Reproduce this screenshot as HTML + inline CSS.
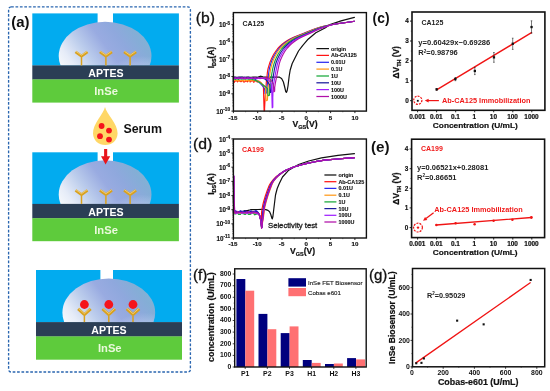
<!DOCTYPE html>
<html lang="en"><head><meta charset="utf-8"><title>InSe FET Biosensor Figure</title>
<style>html,body{margin:0;padding:0;background:#fff}body{width:550px;height:391px;overflow:hidden}svg{display:block}text{font-family:"Liberation Sans", Arial, sans-serif}.b{font-weight:bold}</style></head><body>
<svg width="550" height="391" viewBox="0 0 550 391">
<defs><linearGradient id="dome" x1="0" y1="0.66" x2="1" y2="0.12"><stop offset="0" stop-color="#f8fafd"/><stop offset="0.14" stop-color="#e6ecf8"/><stop offset="0.32" stop-color="#bccdec"/><stop offset="0.52" stop-color="#99abe1"/><stop offset="0.68" stop-color="#8fa8dd"/><stop offset="0.84" stop-color="#84aed6"/><stop offset="1" stop-color="#7fb8d3"/></linearGradient><radialGradient id="dome2" cx="0.9" cy="0.95" r="0.45"><stop offset="0" stop-color="#e8eefa" stop-opacity="0.85"/><stop offset="1" stop-color="#e8eefa" stop-opacity="0"/></radialGradient></defs>
<rect width="550" height="391" fill="#fff"/>
<rect x="8.6" y="6.8" width="181.8" height="365.2" rx="2.5" fill="none" stroke="#2a66b0" stroke-width="1.35" stroke-dasharray="2.7 1.7"/>
<text x="11.2" y="27.1" font-size="14.76" font-weight="bold" fill="#111"  textLength="18.3" lengthAdjust="spacingAndGlyphs">(a)</text>
<rect x="32.3" y="13.4" width="146.6" height="52.2" fill="#02abef"/>
<rect x="97.6" y="12.9" width="15.4" height="12" fill="#fff"/>
<clipPath id="cl0"><rect x="32.3" y="13.4" width="146.6" height="52.0"/></clipPath>
<ellipse cx="105.1" cy="56.0" rx="46.4" ry="34.2" fill="url(#dome)" clip-path="url(#cl0)"/>
<ellipse cx="105.1" cy="56.0" rx="46.4" ry="34.2" fill="url(#dome2)" clip-path="url(#cl0)"/>
<rect x="32.3" y="65.4" width="146.6" height="14.2" fill="#2b3e55"/>
<rect x="32.3" y="79.4" width="146.6" height="23.2" fill="#5ecb3c"/>
<g stroke="#d9a11e" fill="none" stroke-linecap="butt">
<path d="M81.5 65.4 V55.4" stroke-width="1.5"/>
<path d="M81.5 56.1 L75.5 51.8 M81.5 56.1 L87.5 51.8" stroke-width="2.8"/>
<path d="M81.5 55.2 L75.9 51.3 M81.5 55.2 L87.1 51.3" stroke="#f6dc9c" stroke-width="0.7"/>
</g>
<g stroke="#d9a11e" fill="none" stroke-linecap="butt">
<path d="M105.9 65.4 V55.4" stroke-width="1.5"/>
<path d="M105.9 56.1 L99.9 51.8 M105.9 56.1 L111.9 51.8" stroke-width="2.8"/>
<path d="M105.9 55.2 L100.3 51.3 M105.9 55.2 L111.5 51.3" stroke="#f6dc9c" stroke-width="0.7"/>
</g>
<g stroke="#d9a11e" fill="none" stroke-linecap="butt">
<path d="M130.1 65.4 V55.4" stroke-width="1.5"/>
<path d="M130.1 56.1 L124.1 51.8 M130.1 56.1 L136.1 51.8" stroke-width="2.8"/>
<path d="M130.1 55.2 L124.5 51.3 M130.1 55.2 L135.7 51.3" stroke="#f6dc9c" stroke-width="0.7"/>
</g>
<text x="105.9" y="77.1" font-size="10.60" font-weight="bold" fill="#fff" text-anchor="middle" >APTES</text>
<text x="106.1" y="95.0" font-size="11.20" font-weight="bold" fill="#eaf9dc" text-anchor="middle" >InSe</text>
<rect x="32.3" y="152.3" width="146.6" height="51.8" fill="#02abef"/>
<rect x="97.6" y="151.8" width="15.4" height="12" fill="#fff"/>
<clipPath id="cl1"><rect x="32.3" y="152.3" width="146.6" height="51.6"/></clipPath>
<ellipse cx="105.1" cy="194.5" rx="46.4" ry="34.2" fill="url(#dome)" clip-path="url(#cl1)"/>
<ellipse cx="105.1" cy="194.5" rx="46.4" ry="34.2" fill="url(#dome2)" clip-path="url(#cl1)"/>
<rect x="32.3" y="203.9" width="146.6" height="14.5" fill="#2b3e55"/>
<rect x="32.3" y="218.2" width="146.6" height="23.0" fill="#5ecb3c"/>
<g stroke="#d9a11e" fill="none" stroke-linecap="butt">
<path d="M81.5 203.9 V193.9" stroke-width="1.5"/>
<path d="M81.5 194.6 L75.5 190.3 M81.5 194.6 L87.5 190.3" stroke-width="2.8"/>
<path d="M81.5 193.7 L75.9 189.8 M81.5 193.7 L87.1 189.8" stroke="#f6dc9c" stroke-width="0.7"/>
</g>
<g stroke="#d9a11e" fill="none" stroke-linecap="butt">
<path d="M105.9 203.9 V193.9" stroke-width="1.5"/>
<path d="M105.9 194.6 L99.9 190.3 M105.9 194.6 L111.9 190.3" stroke-width="2.8"/>
<path d="M105.9 193.7 L100.3 189.8 M105.9 193.7 L111.5 189.8" stroke="#f6dc9c" stroke-width="0.7"/>
</g>
<g stroke="#d9a11e" fill="none" stroke-linecap="butt">
<path d="M130.1 203.9 V193.9" stroke-width="1.5"/>
<path d="M130.1 194.6 L124.1 190.3 M130.1 194.6 L136.1 190.3" stroke-width="2.8"/>
<path d="M130.1 193.7 L124.5 189.8 M130.1 193.7 L135.7 189.8" stroke="#f6dc9c" stroke-width="0.7"/>
</g>
<text x="105.9" y="215.6" font-size="10.60" font-weight="bold" fill="#fff" text-anchor="middle" >APTES</text>
<text x="106.1" y="233.8" font-size="11.20" font-weight="bold" fill="#eaf9dc" text-anchor="middle" >InSe</text>
<rect x="36.0" y="270.0" width="146.0" height="52.3" fill="#02abef"/>
<rect x="100.4" y="269.5" width="12.6" height="12" fill="#fff"/>
<clipPath id="cl2"><rect x="36.0" y="270.0" width="146.0" height="52.1"/></clipPath>
<ellipse cx="108.8" cy="312.7" rx="46.4" ry="34.2" fill="url(#dome)" clip-path="url(#cl2)"/>
<ellipse cx="108.8" cy="312.7" rx="46.4" ry="34.2" fill="url(#dome2)" clip-path="url(#cl2)"/>
<rect x="36.0" y="322.1" width="146.0" height="14.5" fill="#2b3e55"/>
<rect x="36.0" y="336.4" width="146.0" height="23.3" fill="#5ecb3c"/>
<g stroke="#d9a11e" fill="none" stroke-linecap="butt">
<path d="M84.4 322.1 V314.1" stroke-width="1.5"/>
<path d="M84.4 314.6 L78.1 308.9 M84.4 314.6 L90.7 308.9" stroke-width="2.8"/>
<path d="M84.4 313.7 L78.5 308.4 M84.4 313.7 L90.3 308.4" stroke="#f6dc9c" stroke-width="0.7"/>
</g>
<circle cx="84.4" cy="304.5" r="4.4" fill="#f5141c"/>
<g stroke="#d9a11e" fill="none" stroke-linecap="butt">
<path d="M108.8 322.1 V314.1" stroke-width="1.5"/>
<path d="M108.8 314.6 L102.5 308.9 M108.8 314.6 L115.1 308.9" stroke-width="2.8"/>
<path d="M108.8 313.7 L102.9 308.4 M108.8 313.7 L114.7 308.4" stroke="#f6dc9c" stroke-width="0.7"/>
</g>
<circle cx="108.8" cy="304.5" r="4.4" fill="#f5141c"/>
<g stroke="#d9a11e" fill="none" stroke-linecap="butt">
<path d="M133.0 322.1 V314.1" stroke-width="1.5"/>
<path d="M133.0 314.6 L126.7 308.9 M133.0 314.6 L139.3 308.9" stroke-width="2.8"/>
<path d="M133.0 313.7 L127.1 308.4 M133.0 313.7 L138.9 308.4" stroke="#f6dc9c" stroke-width="0.7"/>
</g>
<circle cx="133.0" cy="304.5" r="4.4" fill="#f5141c"/>
<text x="108.9" y="333.8" font-size="10.60" font-weight="bold" fill="#fff" text-anchor="middle" >APTES</text>
<text x="109.8" y="352.0" font-size="11.20" font-weight="bold" fill="#eaf9dc" text-anchor="middle" >InSe</text>
<path d="M105 107 C106.5 114 118 124 117.6 133.5 C117.3 140.5 112 145 105.3 145 C98.6 145 93.3 140.5 93 133.5 C92.6 124 103.5 114 105 107Z" fill="#ffd766"/>
<circle cx="101.6" cy="126.0" r="2.9" fill="#f5141c"/>
<circle cx="109.0" cy="130.6" r="2.9" fill="#f5141c"/>
<circle cx="100.0" cy="136.2" r="2.9" fill="#f5141c"/>
<circle cx="109.0" cy="139.6" r="2.9" fill="#f5141c"/>
<text x="123.4" y="132.6" font-size="12.40" font-weight="bold" fill="#111" text-anchor="start" >Serum</text>
<path d="M104.1 149 H107.2 V156.3 H110.2 L105.6 164.6 L101 156.3 H104.1Z" fill="#e8151b"/>
<text x="195.8" y="23.4" font-size="15.29" font-weight="normal" fill="#111" stroke="#111" stroke-width="0.3" textLength="19.2" lengthAdjust="spacingAndGlyphs">(b)</text>
<path d="M233.4 111.1 h-2.0" stroke="#111" stroke-width="0.9"/>
<text x="230.1" y="113.7" font-size="6.3" font-weight="bold" fill="#111" stroke="#111" stroke-width="0.15" text-anchor="end">10<tspan dy="-2.4" font-size="4.7">-10</tspan></text>
<path d="M233.4 105.9 h-1.2" stroke="#111" stroke-width="0.45"/>
<path d="M233.4 102.8 h-1.2" stroke="#111" stroke-width="0.45"/>
<path d="M233.4 100.7 h-1.2" stroke="#111" stroke-width="0.45"/>
<path d="M233.4 99.0 h-1.2" stroke="#111" stroke-width="0.45"/>
<path d="M233.4 97.6 h-1.2" stroke="#111" stroke-width="0.45"/>
<path d="M233.4 96.5 h-1.2" stroke="#111" stroke-width="0.45"/>
<path d="M233.4 95.5 h-1.2" stroke="#111" stroke-width="0.45"/>
<path d="M233.4 94.6 h-1.2" stroke="#111" stroke-width="0.45"/>
<path d="M233.4 93.8 h-2.0" stroke="#111" stroke-width="0.9"/>
<text x="230.1" y="96.4" font-size="6.3" font-weight="bold" fill="#111" stroke="#111" stroke-width="0.15" text-anchor="end">10<tspan dy="-2.4" font-size="4.7">-9</tspan></text>
<path d="M233.4 88.6 h-1.2" stroke="#111" stroke-width="0.45"/>
<path d="M233.4 85.5 h-1.2" stroke="#111" stroke-width="0.45"/>
<path d="M233.4 83.4 h-1.2" stroke="#111" stroke-width="0.45"/>
<path d="M233.4 81.7 h-1.2" stroke="#111" stroke-width="0.45"/>
<path d="M233.4 80.3 h-1.2" stroke="#111" stroke-width="0.45"/>
<path d="M233.4 79.2 h-1.2" stroke="#111" stroke-width="0.45"/>
<path d="M233.4 78.2 h-1.2" stroke="#111" stroke-width="0.45"/>
<path d="M233.4 77.3 h-1.2" stroke="#111" stroke-width="0.45"/>
<path d="M233.4 76.5 h-2.0" stroke="#111" stroke-width="0.9"/>
<text x="230.1" y="79.1" font-size="6.3" font-weight="bold" fill="#111" stroke="#111" stroke-width="0.15" text-anchor="end">10<tspan dy="-2.4" font-size="4.7">-8</tspan></text>
<path d="M233.4 71.3 h-1.2" stroke="#111" stroke-width="0.45"/>
<path d="M233.4 68.2 h-1.2" stroke="#111" stroke-width="0.45"/>
<path d="M233.4 66.1 h-1.2" stroke="#111" stroke-width="0.45"/>
<path d="M233.4 64.4 h-1.2" stroke="#111" stroke-width="0.45"/>
<path d="M233.4 63.0 h-1.2" stroke="#111" stroke-width="0.45"/>
<path d="M233.4 61.9 h-1.2" stroke="#111" stroke-width="0.45"/>
<path d="M233.4 60.9 h-1.2" stroke="#111" stroke-width="0.45"/>
<path d="M233.4 60.0 h-1.2" stroke="#111" stroke-width="0.45"/>
<path d="M233.4 59.2 h-2.0" stroke="#111" stroke-width="0.9"/>
<text x="230.1" y="61.8" font-size="6.3" font-weight="bold" fill="#111" stroke="#111" stroke-width="0.15" text-anchor="end">10<tspan dy="-2.4" font-size="4.7">-7</tspan></text>
<path d="M233.4 54.0 h-1.2" stroke="#111" stroke-width="0.45"/>
<path d="M233.4 50.9 h-1.2" stroke="#111" stroke-width="0.45"/>
<path d="M233.4 48.8 h-1.2" stroke="#111" stroke-width="0.45"/>
<path d="M233.4 47.1 h-1.2" stroke="#111" stroke-width="0.45"/>
<path d="M233.4 45.7 h-1.2" stroke="#111" stroke-width="0.45"/>
<path d="M233.4 44.6 h-1.2" stroke="#111" stroke-width="0.45"/>
<path d="M233.4 43.6 h-1.2" stroke="#111" stroke-width="0.45"/>
<path d="M233.4 42.7 h-1.2" stroke="#111" stroke-width="0.45"/>
<path d="M233.4 41.9 h-2.0" stroke="#111" stroke-width="0.9"/>
<text x="230.1" y="44.5" font-size="6.3" font-weight="bold" fill="#111" stroke="#111" stroke-width="0.15" text-anchor="end">10<tspan dy="-2.4" font-size="4.7">-6</tspan></text>
<path d="M233.4 36.7 h-1.2" stroke="#111" stroke-width="0.45"/>
<path d="M233.4 33.6 h-1.2" stroke="#111" stroke-width="0.45"/>
<path d="M233.4 31.5 h-1.2" stroke="#111" stroke-width="0.45"/>
<path d="M233.4 29.8 h-1.2" stroke="#111" stroke-width="0.45"/>
<path d="M233.4 28.4 h-1.2" stroke="#111" stroke-width="0.45"/>
<path d="M233.4 27.3 h-1.2" stroke="#111" stroke-width="0.45"/>
<path d="M233.4 26.3 h-1.2" stroke="#111" stroke-width="0.45"/>
<path d="M233.4 25.4 h-1.2" stroke="#111" stroke-width="0.45"/>
<path d="M233.4 24.6 h-2.0" stroke="#111" stroke-width="0.9"/>
<text x="230.1" y="27.2" font-size="6.3" font-weight="bold" fill="#111" stroke="#111" stroke-width="0.15" text-anchor="end">10<tspan dy="-2.4" font-size="4.7">-5</tspan></text>
<path d="M233.4 19.4 h-1.2" stroke="#111" stroke-width="0.45"/>
<path d="M233.4 16.3 h-1.2" stroke="#111" stroke-width="0.45"/>
<path d="M233.4 14.2 h-1.2" stroke="#111" stroke-width="0.45"/>
<path d="M233.4 111.1 v2.0" stroke="#111" stroke-width="0.9"/>
<text x="233.0" y="119.7" font-size="6.20" font-weight="bold" fill="#111" text-anchor="middle" stroke="#111" stroke-width="0.15">-15</text>
<path d="M257.7 111.1 v2.0" stroke="#111" stroke-width="0.9"/>
<text x="257.3" y="119.7" font-size="6.20" font-weight="bold" fill="#111" text-anchor="middle" stroke="#111" stroke-width="0.15">-10</text>
<path d="M282.0 111.1 v2.0" stroke="#111" stroke-width="0.9"/>
<text x="281.6" y="119.7" font-size="6.20" font-weight="bold" fill="#111" text-anchor="middle" stroke="#111" stroke-width="0.15">-5</text>
<path d="M306.3 111.1 v2.0" stroke="#111" stroke-width="0.9"/>
<text x="306.3" y="119.7" font-size="6.20" font-weight="bold" fill="#111" text-anchor="middle" stroke="#111" stroke-width="0.15">0</text>
<path d="M330.6 111.1 v2.0" stroke="#111" stroke-width="0.9"/>
<text x="330.6" y="119.7" font-size="6.20" font-weight="bold" fill="#111" text-anchor="middle" stroke="#111" stroke-width="0.15">5</text>
<path d="M354.9 111.1 v2.0" stroke="#111" stroke-width="0.9"/>
<text x="354.9" y="119.7" font-size="6.20" font-weight="bold" fill="#111" text-anchor="middle" stroke="#111" stroke-width="0.15">10</text>
<path d="M245.6 111.1 v1.2" stroke="#111" stroke-width="0.45"/>
<path d="M269.9 111.1 v1.2" stroke="#111" stroke-width="0.45"/>
<path d="M294.2 111.1 v1.2" stroke="#111" stroke-width="0.45"/>
<path d="M318.4 111.1 v1.2" stroke="#111" stroke-width="0.45"/>
<path d="M342.8 111.1 v1.2" stroke="#111" stroke-width="0.45"/>
<path d="M233.9 77.2 L235.0 77.2 L236.5 77.4 L238.0 77.3 L239.5 77.1 L241.0 77.0 L242.5 77.2 L244.0 77.4 L245.5 77.3 L247.0 77.0 L248.5 77.0 L250.0 77.3 L251.5 77.4 L253.0 77.2 L254.5 77.0 L256.0 77.1 L257.5 77.3 L259.5 76.6 L261.0 76.2 L263.0 76.8 L266.0 77.1 L272.0 77.1 L279.5 77.2 L281.6 78.4 L283.4 82.0 L284.8 87.5 L285.8 91.8 L286.5 92.4 L287.2 90.5 L288.0 86.0 L289.2 76.0 L290.2 70.0 L292.2 63.5 L294.7 58.4 L298.5 51.0 L302.6 45.6 L308.1 39.2 L315.8 32.8 L325.0 28.0 L329.3 24.9 L341.0 20.9 L354.4 17.4" fill="none" stroke="#111111" stroke-width="1.20" stroke-linejoin="round" stroke-linecap="round" />
<path d="M233.9 82.5 L234.8 81.5 L235.7 80.5 L236.6 80.6 L237.5 81.8 L238.4 80.8 L239.3 80.6 L240.2 81.4 L241.1 81.7 L242.0 80.5 L242.9 80.4 L243.8 82.1 L244.7 81.7 L245.6 81.1 L246.5 81.2 L247.4 81.8 L248.3 80.9 L249.2 80.0 L250.1 81.9 L251.0 81.4 L251.9 80.3 L252.8 80.7 L253.7 82.3 L254.6 81.6 L255.5 80.2 L256.4 80.8 L257.3 82.1 L258.2 81.1 L259.1 81.3 L259.7 81.6 L260.3 82.1 L261.0 82.7 L261.6 83.5 L262.2 84.4 L262.8 85.4 L263.4 86.5 L264.1 110.9 L264.6 110.4 L264.6 108.4 L264.7 106.4 L264.8 104.4 L264.9 102.4 L265.0 100.4 L265.1 98.4 L265.2 96.4 L265.3 94.4 L265.5 92.4 L265.6 90.4 L265.8 88.4 L266.0 86.4 L266.2 84.4 L266.3 82.4 L266.5 80.4 L266.7 78.4 L267.0 76.4 L267.2 74.4 L267.4 72.4 L267.7 70.4 L268.1 68.4 L268.7 66.4 L269.3 64.4 L269.9 62.4 L270.7 60.4 L270.9 60.0 L271.3 59.0 L271.8 58.0 L272.3 57.0 L272.8 56.0 L273.3 55.0 L273.9 54.0 L274.5 53.0 L275.2 52.0 L275.9 51.0 L276.6 50.0 L277.4 49.0 L278.3 48.0 L279.2 47.0 L280.2 46.0 L281.3 45.0 L282.4 44.0 L283.7 43.0 L285.1 42.0 L286.6 41.0 L288.2 40.0 L290.0 39.0 L292.0 38.0 L294.2 37.0 L296.7 36.0 L299.3 35.0 L301.9 34.0 L304.4 33.0 L306.8 32.0 L309.3 31.0 L311.8 30.0 L313.1 29.5 L314.5 29.0 L315.9 28.5 L317.4 28.0 L318.9 27.5 L320.6 27.0 L322.4 26.5 L324.5 26.0 L326.9 25.5 L329.6 25.0 L332.4 24.5 L335.5 24.0 L339.0 23.5 L342.6 23.0 L346.1 22.5 L349.5 22.0 L353.0 21.5 L354.4 21.3" fill="none" stroke="#ff1414" stroke-width="1.15" stroke-linejoin="round" stroke-linecap="round" />
<path d="M233.9 77.7 L234.8 77.3 L235.7 77.7 L236.6 78.4 L237.5 77.5 L238.4 77.2 L239.3 77.6 L240.2 77.6 L241.1 77.4 L242.0 77.2 L242.9 78.1 L243.8 77.9 L244.7 77.1 L245.6 77.7 L246.5 78.0 L247.4 77.5 L248.3 77.2 L249.2 77.6 L251.8 78.0 L253.6 78.6 L255.4 79.5 L257.2 80.8 L259.1 82.3 L260.9 84.1 L262.7 86.2 L264.5 88.5 L265.1 93.5 L266.6 93.0 L266.8 91.0 L266.9 89.0 L267.1 87.0 L267.3 85.0 L267.5 83.0 L267.7 81.0 L267.9 79.0 L268.2 77.0 L268.4 75.0 L268.7 73.0 L269.0 71.0 L269.3 69.0 L269.8 67.0 L270.4 65.0 L271.0 63.0 L271.7 61.0 L272.1 60.0 L272.6 59.0 L273.0 58.0 L273.5 57.0 L274.0 56.0 L274.6 55.0 L275.1 54.0 L275.7 53.0 L276.4 52.0 L277.1 51.0 L277.8 50.0 L278.6 49.0 L279.4 48.0 L280.4 47.0 L281.4 46.0 L282.4 45.0 L283.6 44.0 L284.9 43.0 L286.2 42.0 L287.7 41.0 L289.3 40.0 L291.0 39.0 L293.0 38.0 L295.2 37.0 L297.7 36.0 L300.2 35.0 L302.7 34.0 L305.2 33.0 L307.6 32.0 L310.0 31.0 L312.5 30.0 L313.8 29.5 L315.2 29.0 L316.6 28.5 L318.0 28.0 L319.5 27.5 L321.2 27.0 L323.0 26.5 L325.0 26.0 L327.2 25.5 L329.8 25.0 L332.5 24.5 L335.5 24.0 L339.0 23.5 L342.6 23.0 L346.1 22.5 L349.5 22.0 L353.0 21.5 L354.4 21.3" fill="none" stroke="#2a2af0" stroke-width="1.15" stroke-linejoin="round" stroke-linecap="round" />
<path d="M233.9 80.0 L234.8 80.3 L235.7 80.5 L236.6 80.7 L237.5 80.4 L238.4 80.7 L239.3 81.4 L240.2 80.8 L241.1 80.5 L242.0 80.5 L242.9 81.3 L243.8 79.8 L244.7 80.1 L245.6 80.5 L246.5 81.1 L247.4 80.5 L248.3 80.4 L249.2 81.5 L250.1 80.5 L251.0 80.1 L251.9 80.7 L252.8 80.8 L253.7 80.5 L254.6 80.7 L255.5 80.7 L257.2 80.8 L258.4 81.2 L259.6 81.9 L260.8 82.7 L261.9 83.8 L263.1 85.0 L264.3 86.4 L265.5 88.0 L266.1 100.8 L267.4 100.3 L267.5 98.3 L267.6 96.3 L267.7 94.3 L267.9 92.3 L268.0 90.3 L268.1 88.3 L268.3 86.3 L268.5 84.3 L268.7 82.3 L269.0 80.3 L269.2 78.3 L269.5 76.3 L269.8 74.3 L270.1 72.3 L270.4 70.3 L270.8 68.3 L271.3 66.3 L271.9 64.3 L272.5 62.3 L273.3 60.3 L273.4 60.0 L273.8 59.0 L274.3 58.0 L274.8 57.0 L275.3 56.0 L275.8 55.0 L276.4 54.0 L276.9 53.0 L277.6 52.0 L278.3 51.0 L279.0 50.0 L279.8 49.0 L280.6 48.0 L281.5 47.0 L282.5 46.0 L283.6 45.0 L284.7 44.0 L286.0 43.0 L287.4 42.0 L288.8 41.0 L290.4 40.0 L292.1 39.0 L294.1 38.0 L296.3 37.0 L298.6 36.0 L301.1 35.0 L303.6 34.0 L306.1 33.0 L308.4 32.0 L310.8 31.0 L313.2 30.0 L314.5 29.5 L315.8 29.0 L317.2 28.5 L318.6 28.0 L320.2 27.5 L321.8 27.0 L323.5 26.5 L325.4 26.0 L327.6 25.5 L330.0 25.0 L332.6 24.5 L335.5 24.0 L339.0 23.5 L342.6 23.0 L346.1 22.5 L349.5 22.0 L353.0 21.5 L354.4 21.3" fill="none" stroke="#ff9a1a" stroke-width="1.15" stroke-linejoin="round" stroke-linecap="round" />
<path d="M233.9 78.9 L234.8 79.2 L235.7 79.5 L236.6 78.8 L237.5 78.9 L238.4 79.4 L239.3 79.1 L240.2 78.5 L241.1 79.2 L242.0 79.1 L242.9 79.0 L243.8 78.8 L244.7 79.0 L245.6 79.3 L246.5 79.0 L247.4 78.8 L248.3 79.1 L251.3 79.2 L253.6 79.8 L255.9 80.6 L258.2 81.7 L260.6 83.1 L262.9 84.7 L265.2 86.5 L267.5 88.5 L268.1 95.7 L269.5 95.2 L269.6 93.2 L269.7 91.2 L269.8 89.2 L270.0 87.2 L270.2 85.2 L270.4 83.2 L270.7 81.2 L271.0 79.2 L271.3 77.2 L271.6 75.2 L271.9 73.2 L272.3 71.2 L272.6 69.2 L273.1 67.2 L273.6 65.2 L274.2 63.2 L274.9 61.2 L275.3 60.0 L275.8 59.0 L276.2 58.0 L276.7 57.0 L277.2 56.0 L277.7 55.0 L278.2 54.0 L278.8 53.0 L279.5 52.0 L280.1 51.0 L280.8 50.0 L281.6 49.0 L282.5 48.0 L283.4 47.0 L284.3 46.0 L285.4 45.0 L286.5 44.0 L287.8 43.0 L289.1 42.0 L290.5 41.0 L292.1 40.0 L293.8 39.0 L295.7 38.0 L297.8 37.0 L300.1 36.0 L302.6 35.0 L305.0 34.0 L307.4 33.0 L309.7 32.0 L311.9 31.0 L314.3 30.0 L315.5 29.5 L316.8 29.0 L318.2 28.5 L319.6 28.0 L321.1 27.5 L322.7 27.0 L324.4 26.5 L326.1 26.0 L328.1 25.5 L330.3 25.0 L332.7 24.5 L335.5 24.0 L339.0 23.5 L342.6 23.0 L346.1 22.5 L349.5 22.0 L353.0 21.5 L354.4 21.3" fill="none" stroke="#18a83a" stroke-width="1.15" stroke-linejoin="round" stroke-linecap="round" />
<path d="M233.9 77.6 L234.8 78.0 L235.7 77.7 L236.6 77.6 L237.5 77.9 L238.4 78.1 L239.3 77.6 L240.2 77.8 L241.1 78.2 L242.0 77.8 L242.9 77.6 L243.8 78.2 L244.7 78.3 L245.6 77.7 L246.5 77.7 L247.4 78.1 L248.3 78.2 L249.2 77.7 L250.1 77.7 L251.0 78.0 L251.9 78.1 L252.8 77.7 L253.7 77.8 L254.6 78.1 L255.5 77.8 L256.4 77.8 L257.3 77.9 L258.2 78.2 L259.1 77.8 L260.0 77.8 L260.9 78.0 L261.8 78.2 L263.0 78.1 L263.9 78.5 L264.9 79.1 L265.9 79.9 L266.9 80.9 L267.9 82.1 L268.8 83.5 L269.8 85.0 L270.4 92.5 L271.3 92.0 L271.4 90.0 L271.5 88.0 L271.7 86.0 L272.0 84.0 L272.3 82.0 L272.6 80.0 L272.9 78.0 L273.3 76.0 L273.6 74.0 L274.0 72.0 L274.3 70.0 L274.7 68.0 L275.2 66.0 L275.7 64.0 L276.3 62.0 L277.1 60.0 L277.5 59.0 L277.9 58.0 L278.4 57.0 L278.9 56.0 L279.4 55.0 L279.9 54.0 L280.5 53.0 L281.1 52.0 L281.8 51.0 L282.5 50.0 L283.3 49.0 L284.1 48.0 L285.0 47.0 L286.0 46.0 L287.0 45.0 L288.1 44.0 L289.3 43.0 L290.7 42.0 L292.1 41.0 L293.6 40.0 L295.3 39.0 L297.1 38.0 L299.2 37.0 L301.5 36.0 L303.8 35.0 L306.2 34.0 L308.5 33.0 L310.8 32.0 L313.0 31.0 L315.2 30.0 L316.4 29.5 L317.7 29.0 L319.0 28.5 L320.5 28.0 L322.0 27.5 L323.5 27.0 L325.1 26.5 L326.8 26.0 L328.6 25.5 L330.6 25.0 L332.9 24.5 L335.6 24.0 L338.9 23.5 L342.6 23.0 L346.1 22.5 L349.5 22.0 L353.0 21.5 L354.4 21.3" fill="none" stroke="#1c1c9c" stroke-width="1.15" stroke-linejoin="round" stroke-linecap="round" />
<path d="M233.9 78.6 L234.8 78.4 L235.7 78.1 L236.6 78.3 L237.5 78.7 L238.4 78.3 L239.3 78.2 L240.2 78.6 L241.1 78.5 L242.0 78.1 L242.9 78.3 L243.8 78.9 L244.7 78.5 L245.6 78.1 L246.5 78.5 L247.4 78.6 L248.3 78.2 L249.2 78.3 L250.1 78.5 L251.0 78.4 L251.9 78.1 L252.8 78.3 L253.7 78.7 L254.6 78.6 L255.5 78.1 L256.4 78.5 L257.3 78.7 L258.2 78.3 L259.1 78.3 L260.0 78.6 L260.9 78.5 L261.8 78.4 L262.7 78.1 L263.6 78.6 L264.5 78.5 L265.4 78.2 L266.7 78.6 L267.4 78.9 L268.1 79.5 L268.8 80.3 L269.5 81.2 L270.2 82.3 L270.9 83.6 L271.6 85.0 L272.2 107.8 L272.8 107.3 L272.8 105.3 L272.8 103.3 L272.8 101.3 L272.8 99.3 L272.8 97.3 L272.9 95.3 L272.9 93.3 L273.0 91.3 L273.1 89.3 L273.1 87.3 L273.4 85.3 L273.7 83.3 L274.1 81.3 L274.4 79.3 L274.8 77.3 L275.1 75.3 L275.5 73.3 L275.9 71.3 L276.3 69.3 L276.7 67.3 L277.1 65.3 L277.6 63.3 L278.3 61.3 L278.8 60.0 L279.2 59.0 L279.6 58.0 L280.1 57.0 L280.6 56.0 L281.1 55.0 L281.6 54.0 L282.2 53.0 L282.8 52.0 L283.5 51.0 L284.2 50.0 L284.9 49.0 L285.7 48.0 L286.6 47.0 L287.6 46.0 L288.6 45.0 L289.7 44.0 L290.9 43.0 L292.2 42.0 L293.6 41.0 L295.1 40.0 L296.7 39.0 L298.6 38.0 L300.6 37.0 L302.8 36.0 L305.1 35.0 L307.4 34.0 L309.7 33.0 L311.9 32.0 L314.0 31.0 L316.2 30.0 L317.4 29.5 L318.6 29.0 L319.9 28.5 L321.3 28.0 L322.8 27.5 L324.4 27.0 L325.9 26.5 L327.4 26.0 L329.1 25.5 L330.9 25.0 L333.0 24.5 L335.6 24.0 L338.9 23.5 L342.6 23.0 L346.1 22.5 L349.5 22.0 L353.0 21.5 L354.4 21.3" fill="none" stroke="#a020ff" stroke-width="1.15" stroke-linejoin="round" stroke-linecap="round" />
<path d="M233.9 78.0 L234.8 77.8 L235.7 78.0 L236.6 78.4 L237.5 77.9 L238.4 77.8 L239.3 78.1 L240.2 78.0 L241.1 78.2 L242.0 77.8 L242.9 78.0 L243.8 78.3 L244.7 77.6 L245.6 78.0 L246.5 78.4 L247.4 77.9 L248.3 77.7 L249.2 78.0 L250.1 78.2 L251.0 77.7 L251.9 77.7 L252.8 78.2 L253.7 78.3 L254.6 77.9 L255.5 78.1 L256.4 78.3 L257.3 78.0 L258.2 77.7 L259.1 77.8 L260.0 78.1 L260.9 77.8 L261.8 77.8 L262.7 78.2 L263.6 78.1 L264.5 77.7 L265.4 77.7 L266.3 78.2 L267.2 78.1 L268.7 78.1 L269.3 78.5 L270.0 79.0 L270.6 79.7 L271.3 80.6 L272.0 81.6 L272.6 82.7 L273.3 84.0 L273.9 91.9 L274.6 91.4 L274.7 89.4 L274.7 87.4 L275.0 85.4 L275.3 83.4 L275.7 81.4 L276.1 79.4 L276.5 77.4 L276.9 75.4 L277.3 73.4 L277.7 71.4 L278.1 69.4 L278.5 67.4 L278.9 65.4 L279.4 63.4 L280.0 61.4 L280.5 60.0 L280.9 59.0 L281.4 58.0 L281.8 57.0 L282.3 56.0 L282.8 55.0 L283.3 54.0 L283.9 53.0 L284.5 52.0 L285.1 51.0 L285.8 50.0 L286.6 49.0 L287.4 48.0 L288.3 47.0 L289.2 46.0 L290.2 45.0 L291.3 44.0 L292.5 43.0 L293.8 42.0 L295.2 41.0 L296.6 40.0 L298.2 39.0 L300.0 38.0 L302.0 37.0 L304.2 36.0 L306.4 35.0 L308.7 34.0 L310.9 33.0 L313.0 32.0 L315.0 31.0 L317.2 30.0 L318.3 29.5 L319.5 29.0 L320.8 28.5 L322.2 28.0 L323.7 27.5 L325.2 27.0 L326.7 26.5 L328.1 26.0 L329.6 25.5 L331.2 25.0 L333.1 24.5 L335.6 24.0 L338.9 23.5 L342.6 23.0 L346.0 22.5 L349.5 22.0 L353.0 21.5 L354.4 21.3" fill="none" stroke="#b010a8" stroke-width="1.15" stroke-linejoin="round" stroke-linecap="round" />
<path d="M316.4 48.6 H329" stroke="#111111" stroke-width="1.25"/>
<text x="331.0" y="50.6" font-size="5.40" font-weight="bold" fill="#111" text-anchor="start" stroke="#111" stroke-width="0.12">origin</text>
<path d="M316.4 55.4 H329" stroke="#ff1414" stroke-width="1.25"/>
<text x="331.0" y="57.4" font-size="5.40" font-weight="bold" fill="#111" text-anchor="start" stroke="#111" stroke-width="0.12">Ab-CA125</text>
<path d="M316.4 62.3 H329" stroke="#2a2af0" stroke-width="1.25"/>
<text x="331.0" y="64.3" font-size="5.40" font-weight="bold" fill="#111" text-anchor="start" stroke="#111" stroke-width="0.12">0.01U</text>
<path d="M316.4 69.1 H329" stroke="#ff9a1a" stroke-width="1.25"/>
<text x="331.0" y="71.1" font-size="5.40" font-weight="bold" fill="#111" text-anchor="start" stroke="#111" stroke-width="0.12">0.1U</text>
<path d="M316.4 76.0 H329" stroke="#18a83a" stroke-width="1.25"/>
<text x="331.0" y="78.0" font-size="5.40" font-weight="bold" fill="#111" text-anchor="start" stroke="#111" stroke-width="0.12">1U</text>
<path d="M316.4 82.8 H329" stroke="#1c1c9c" stroke-width="1.25"/>
<text x="331.0" y="84.8" font-size="5.40" font-weight="bold" fill="#111" text-anchor="start" stroke="#111" stroke-width="0.12">10U</text>
<path d="M316.4 89.6 H329" stroke="#a020ff" stroke-width="1.25"/>
<text x="331.0" y="91.6" font-size="5.40" font-weight="bold" fill="#111" text-anchor="start" stroke="#111" stroke-width="0.12">100U</text>
<path d="M316.4 96.5 H329" stroke="#b010a8" stroke-width="1.25"/>
<text x="331.0" y="98.5" font-size="5.40" font-weight="bold" fill="#111" text-anchor="start" stroke="#111" stroke-width="0.12">1000U</text>
<text x="242.4" y="25.6" font-size="7.00" font-weight="bold" fill="#222" text-anchor="start" >CA125</text>
<rect x="233.4" y="12.6" width="133.0" height="98.5" fill="none" stroke="#111" stroke-width="1.4"/>
<text transform="translate(214.4,57.5) rotate(-90)" font-size="8.4" font-weight="bold" fill="#111" stroke="#111" stroke-width="0.25" text-anchor="middle">I<tspan dy="1.6" font-size="5.4">DS</tspan><tspan dy="-1.6">(A)</tspan></text>
<text x="305" y="127" font-size="8.6" font-weight="bold" fill="#111" stroke="#111" stroke-width="0.2" text-anchor="middle">V<tspan dy="1.6" font-size="5.5">GS</tspan><tspan dy="-1.6">(V)</tspan></text>
<text x="193.0" y="148.5" font-size="14.76" font-weight="normal" fill="#111" stroke="#111" stroke-width="0.3" textLength="19.3" lengthAdjust="spacingAndGlyphs">(d)</text>
<path d="M233.4 238.0 h-2.0" stroke="#111" stroke-width="0.9"/>
<text x="230.1" y="240.6" font-size="6.3" font-weight="bold" fill="#111" stroke="#111" stroke-width="0.15" text-anchor="end">10<tspan dy="-2.4" font-size="4.7">-11</tspan></text>
<path d="M233.4 233.7 h-1.2" stroke="#111" stroke-width="0.45"/>
<path d="M233.4 231.2 h-1.2" stroke="#111" stroke-width="0.45"/>
<path d="M233.4 229.5 h-1.2" stroke="#111" stroke-width="0.45"/>
<path d="M233.4 228.1 h-1.2" stroke="#111" stroke-width="0.45"/>
<path d="M233.4 227.0 h-1.2" stroke="#111" stroke-width="0.45"/>
<path d="M233.4 226.0 h-1.2" stroke="#111" stroke-width="0.45"/>
<path d="M233.4 225.2 h-1.2" stroke="#111" stroke-width="0.45"/>
<path d="M233.4 224.5 h-1.2" stroke="#111" stroke-width="0.45"/>
<path d="M233.4 223.8 h-2.0" stroke="#111" stroke-width="0.9"/>
<text x="230.1" y="226.4" font-size="6.3" font-weight="bold" fill="#111" stroke="#111" stroke-width="0.15" text-anchor="end">10<tspan dy="-2.4" font-size="4.7">-10</tspan></text>
<path d="M233.4 219.6 h-1.2" stroke="#111" stroke-width="0.45"/>
<path d="M233.4 217.1 h-1.2" stroke="#111" stroke-width="0.45"/>
<path d="M233.4 215.3 h-1.2" stroke="#111" stroke-width="0.45"/>
<path d="M233.4 214.0 h-1.2" stroke="#111" stroke-width="0.45"/>
<path d="M233.4 212.8 h-1.2" stroke="#111" stroke-width="0.45"/>
<path d="M233.4 211.9 h-1.2" stroke="#111" stroke-width="0.45"/>
<path d="M233.4 211.1 h-1.2" stroke="#111" stroke-width="0.45"/>
<path d="M233.4 210.3 h-1.2" stroke="#111" stroke-width="0.45"/>
<path d="M233.4 209.7 h-2.0" stroke="#111" stroke-width="0.9"/>
<text x="230.1" y="212.3" font-size="6.3" font-weight="bold" fill="#111" stroke="#111" stroke-width="0.15" text-anchor="end">10<tspan dy="-2.4" font-size="4.7">-9</tspan></text>
<path d="M233.4 205.4 h-1.2" stroke="#111" stroke-width="0.45"/>
<path d="M233.4 202.9 h-1.2" stroke="#111" stroke-width="0.45"/>
<path d="M233.4 201.2 h-1.2" stroke="#111" stroke-width="0.45"/>
<path d="M233.4 199.8 h-1.2" stroke="#111" stroke-width="0.45"/>
<path d="M233.4 198.7 h-1.2" stroke="#111" stroke-width="0.45"/>
<path d="M233.4 197.7 h-1.2" stroke="#111" stroke-width="0.45"/>
<path d="M233.4 196.9 h-1.2" stroke="#111" stroke-width="0.45"/>
<path d="M233.4 196.2 h-1.2" stroke="#111" stroke-width="0.45"/>
<path d="M233.4 195.6 h-2.0" stroke="#111" stroke-width="0.9"/>
<text x="230.1" y="198.2" font-size="6.3" font-weight="bold" fill="#111" stroke="#111" stroke-width="0.15" text-anchor="end">10<tspan dy="-2.4" font-size="4.7">-8</tspan></text>
<path d="M233.4 191.3 h-1.2" stroke="#111" stroke-width="0.45"/>
<path d="M233.4 188.8 h-1.2" stroke="#111" stroke-width="0.45"/>
<path d="M233.4 187.0 h-1.2" stroke="#111" stroke-width="0.45"/>
<path d="M233.4 185.7 h-1.2" stroke="#111" stroke-width="0.45"/>
<path d="M233.4 184.5 h-1.2" stroke="#111" stroke-width="0.45"/>
<path d="M233.4 183.6 h-1.2" stroke="#111" stroke-width="0.45"/>
<path d="M233.4 182.8 h-1.2" stroke="#111" stroke-width="0.45"/>
<path d="M233.4 182.0 h-1.2" stroke="#111" stroke-width="0.45"/>
<path d="M233.4 181.4 h-2.0" stroke="#111" stroke-width="0.9"/>
<text x="230.1" y="184.0" font-size="6.3" font-weight="bold" fill="#111" stroke="#111" stroke-width="0.15" text-anchor="end">10<tspan dy="-2.4" font-size="4.7">-7</tspan></text>
<path d="M233.4 177.1 h-1.2" stroke="#111" stroke-width="0.45"/>
<path d="M233.4 174.6 h-1.2" stroke="#111" stroke-width="0.45"/>
<path d="M233.4 172.9 h-1.2" stroke="#111" stroke-width="0.45"/>
<path d="M233.4 171.5 h-1.2" stroke="#111" stroke-width="0.45"/>
<path d="M233.4 170.4 h-1.2" stroke="#111" stroke-width="0.45"/>
<path d="M233.4 169.4 h-1.2" stroke="#111" stroke-width="0.45"/>
<path d="M233.4 168.6 h-1.2" stroke="#111" stroke-width="0.45"/>
<path d="M233.4 167.9 h-1.2" stroke="#111" stroke-width="0.45"/>
<path d="M233.4 167.2 h-2.0" stroke="#111" stroke-width="0.9"/>
<text x="230.1" y="169.8" font-size="6.3" font-weight="bold" fill="#111" stroke="#111" stroke-width="0.15" text-anchor="end">10<tspan dy="-2.4" font-size="4.7">-6</tspan></text>
<path d="M233.4 163.0 h-1.2" stroke="#111" stroke-width="0.45"/>
<path d="M233.4 160.5 h-1.2" stroke="#111" stroke-width="0.45"/>
<path d="M233.4 158.7 h-1.2" stroke="#111" stroke-width="0.45"/>
<path d="M233.4 157.4 h-1.2" stroke="#111" stroke-width="0.45"/>
<path d="M233.4 156.2 h-1.2" stroke="#111" stroke-width="0.45"/>
<path d="M233.4 155.3 h-1.2" stroke="#111" stroke-width="0.45"/>
<path d="M233.4 154.5 h-1.2" stroke="#111" stroke-width="0.45"/>
<path d="M233.4 153.7 h-1.2" stroke="#111" stroke-width="0.45"/>
<path d="M233.4 153.1 h-2.0" stroke="#111" stroke-width="0.9"/>
<text x="230.1" y="155.7" font-size="6.3" font-weight="bold" fill="#111" stroke="#111" stroke-width="0.15" text-anchor="end">10<tspan dy="-2.4" font-size="4.7">-5</tspan></text>
<path d="M233.4 148.8 h-1.2" stroke="#111" stroke-width="0.45"/>
<path d="M233.4 146.3 h-1.2" stroke="#111" stroke-width="0.45"/>
<path d="M233.4 144.6 h-1.2" stroke="#111" stroke-width="0.45"/>
<path d="M233.4 143.2 h-1.2" stroke="#111" stroke-width="0.45"/>
<path d="M233.4 142.1 h-1.2" stroke="#111" stroke-width="0.45"/>
<path d="M233.4 141.1 h-1.2" stroke="#111" stroke-width="0.45"/>
<path d="M233.4 140.3 h-1.2" stroke="#111" stroke-width="0.45"/>
<path d="M233.4 138.9 h-2.0" stroke="#111" stroke-width="0.9"/>
<text x="230.1" y="141.5" font-size="6.3" font-weight="bold" fill="#111" stroke="#111" stroke-width="0.15" text-anchor="end">10<tspan dy="-2.4" font-size="4.7">-4</tspan></text>
<path d="M233.4 238.0 v2.0" stroke="#111" stroke-width="0.9"/>
<text x="233.0" y="246.3" font-size="6.20" font-weight="bold" fill="#111" text-anchor="middle" stroke="#111" stroke-width="0.15">-15</text>
<path d="M257.7 238.0 v2.0" stroke="#111" stroke-width="0.9"/>
<text x="257.3" y="246.3" font-size="6.20" font-weight="bold" fill="#111" text-anchor="middle" stroke="#111" stroke-width="0.15">-10</text>
<path d="M282.0 238.0 v2.0" stroke="#111" stroke-width="0.9"/>
<text x="281.6" y="246.3" font-size="6.20" font-weight="bold" fill="#111" text-anchor="middle" stroke="#111" stroke-width="0.15">-5</text>
<path d="M306.3 238.0 v2.0" stroke="#111" stroke-width="0.9"/>
<text x="306.3" y="246.3" font-size="6.20" font-weight="bold" fill="#111" text-anchor="middle" stroke="#111" stroke-width="0.15">0</text>
<path d="M330.6 238.0 v2.0" stroke="#111" stroke-width="0.9"/>
<text x="330.6" y="246.3" font-size="6.20" font-weight="bold" fill="#111" text-anchor="middle" stroke="#111" stroke-width="0.15">5</text>
<path d="M354.9 238.0 v2.0" stroke="#111" stroke-width="0.9"/>
<text x="354.9" y="246.3" font-size="6.20" font-weight="bold" fill="#111" text-anchor="middle" stroke="#111" stroke-width="0.15">10</text>
<path d="M245.6 238.0 v1.2" stroke="#111" stroke-width="0.45"/>
<path d="M269.9 238.0 v1.2" stroke="#111" stroke-width="0.45"/>
<path d="M294.2 238.0 v1.2" stroke="#111" stroke-width="0.45"/>
<path d="M318.4 238.0 v1.2" stroke="#111" stroke-width="0.45"/>
<path d="M342.8 238.0 v1.2" stroke="#111" stroke-width="0.45"/>
<path d="M234.0 213.0 L235.5 212.5 L237.0 212.4 L238.5 211.9 L240.0 211.4 L241.5 211.5 L243.0 211.3 L244.5 210.7 L246.0 210.5 L247.5 210.6 L249.0 210.2 L250.5 209.7 L253.0 209.7 L258.0 209.5 L262.0 209.4 L265.8 209.6 L268.0 210.4 L269.6 211.8 L270.8 214.5 L271.8 218.2 L272.3 218.8 L272.9 216.5 L273.8 209.0 L275.5 195.0 L277.2 188.5 L279.3 183.4 L282.5 177.0 L288.3 170.6 L293.4 167.4 L299.2 164.2 L308.7 161.0 L321.5 157.8 L338.0 155.4 L354.4 153.6" fill="none" stroke="#111111" stroke-width="1.20" stroke-linejoin="round" stroke-linecap="round" />
<path d="M235.0 212.7 L235.9 212.0 L236.8 212.3 L237.7 212.2 L238.6 212.3 L239.5 212.5 L240.4 212.4 L241.3 212.1 L242.2 211.7 L243.1 212.1 L244.0 212.6 L244.9 213.0 L245.8 212.7 L246.7 211.9 L247.6 211.9 L248.5 212.0 L249.4 212.4 L250.3 213.1 L251.2 212.1 L252.1 212.3 L253.0 211.7 L253.9 212.3 L254.8 212.9 L255.7 212.6 L256.6 212.2 L258.4 213.1 L259.6 215.5 L260.5 219.0 L261.2 224.0 L261.6 226.5 L261.7 227.5 L261.6 225.5 L261.6 223.5 L261.6 221.5 L261.5 219.5 L261.5 217.5 L261.5 215.5 L261.5 213.5 L261.7 211.5 L262.0 209.5 L262.3 207.5 L262.7 205.5 L263.2 203.5 L263.7 201.5 L264.3 199.5 L264.9 197.5 L265.5 195.5 L266.2 193.5 L266.9 191.5 L267.6 189.5 L268.4 187.5 L269.2 185.5 L270.3 183.5 L271.7 181.5 L272.9 180.0 L273.4 179.4 L274.0 178.8 L274.6 178.2 L275.2 177.6 L275.8 177.0 L276.5 176.4 L277.2 175.8 L278.0 175.2 L278.7 174.6 L279.6 174.0 L280.5 173.4 L281.4 172.8 L282.3 172.2 L283.3 171.6 L284.4 171.0 L285.5 170.4 L286.8 169.8 L288.1 169.2 L289.6 168.6 L291.2 168.0 L292.9 167.4 L294.6 166.8 L296.5 166.2 L298.5 165.6 L300.6 165.0 L302.8 164.4 L305.2 163.8 L307.8 163.2 L310.6 162.6 L313.6 162.0 L316.7 161.4 L320.2 160.8 L324.2 160.2 L330.1 159.6 L337.6 159.0 L344.7 158.4 L352.0 157.8 L354.4 157.6" fill="none" stroke="#ff1414" stroke-width="1.20" stroke-linejoin="round" stroke-linecap="round" />
<path d="M235.0 214.1 L235.9 213.6 L236.8 213.3 L237.7 213.3 L238.6 214.3 L239.5 214.2 L240.4 214.5 L241.3 213.0 L242.2 213.4 L243.1 213.7 L244.0 214.0 L244.9 214.5 L245.8 214.1 L246.7 213.4 L247.6 213.5 L248.5 214.4 L249.4 214.2 L250.3 214.3 L251.2 213.7 L252.1 213.4 L253.0 213.1 L253.9 213.8 L254.8 214.8 L255.7 214.4 L256.6 213.9 L258.4 214.0 L259.6 215.5 L260.5 219.0 L261.2 224.0 L261.6 227.4 L261.8 227.5 L262.0 225.5 L262.2 223.5 L262.4 221.5 L262.6 219.5 L262.8 217.5 L263.1 215.5 L263.3 213.5 L263.5 211.5 L263.8 209.5 L264.1 207.5 L264.5 205.5 L265.0 203.5 L265.5 201.5 L266.1 199.5 L266.7 197.5 L267.3 195.5 L268.0 193.5 L268.7 191.5 L269.4 189.5 L270.2 187.5 L270.9 185.5 L271.8 183.5 L273.0 181.5 L274.1 180.0 L274.6 179.4 L275.1 178.8 L275.6 178.2 L276.2 177.6 L276.7 177.0 L277.4 176.4 L278.0 175.8 L278.7 175.2 L279.4 174.6 L280.2 174.0 L281.0 173.4 L281.9 172.8 L282.8 172.2 L283.8 171.6 L284.8 171.0 L285.8 170.4 L287.0 169.8 L288.3 169.2 L289.8 168.6 L291.3 168.0 L292.9 167.4 L294.6 166.8 L296.5 166.2 L298.5 165.6 L300.6 165.0 L302.8 164.4 L305.2 163.8 L307.8 163.2 L310.6 162.6 L313.6 162.0 L316.7 161.4 L320.2 160.8 L324.2 160.2 L330.1 159.6 L337.6 159.0 L344.7 158.4 L352.0 157.8 L354.4 157.6" fill="none" stroke="#18a83a" stroke-width="1.20" stroke-linejoin="round" stroke-linecap="round" />
<path d="M235.0 213.0 L235.9 213.6 L236.8 213.2 L237.7 213.1 L238.6 212.5 L239.5 212.4 L240.4 213.3 L241.3 212.6 L242.2 212.8 L243.1 212.6 L244.0 212.0 L244.9 212.5 L245.8 212.8 L246.7 213.0 L247.6 213.5 L248.5 212.5 L249.4 212.3 L250.3 213.0 L251.2 213.0 L252.1 213.3 L253.0 212.8 L253.9 212.7 L254.8 212.0 L255.7 213.0 L256.6 213.2 L258.4 213.4 L259.6 215.5 L260.5 219.0 L261.2 224.0 L261.6 227.1 L261.8 227.5 L262.1 225.5 L262.4 223.5 L262.7 221.5 L263.0 219.5 L263.4 217.5 L263.7 215.5 L264.0 213.5 L264.2 211.5 L264.5 209.5 L264.8 207.5 L265.2 205.5 L265.7 203.5 L266.2 201.5 L266.8 199.5 L267.4 197.5 L268.0 195.5 L268.7 193.5 L269.4 191.5 L270.1 189.5 L270.9 187.5 L271.6 185.5 L272.4 183.5 L273.5 181.5 L274.5 180.0 L275.0 179.4 L275.5 178.8 L276.0 178.2 L276.5 177.6 L277.1 177.0 L277.7 176.4 L278.3 175.8 L279.0 175.2 L279.7 174.6 L280.5 174.0 L281.3 173.4 L282.1 172.8 L283.0 172.2 L283.9 171.6 L284.9 171.0 L285.9 170.4 L287.1 169.8 L288.4 169.2 L289.8 168.6 L291.3 168.0 L292.9 167.4 L294.6 166.8 L296.5 166.2 L298.5 165.6 L300.6 165.0 L302.8 164.4 L305.2 163.8 L307.8 163.2 L310.6 162.6 L313.6 162.0 L316.7 161.4 L320.2 160.8 L324.2 160.2 L330.1 159.6 L337.6 159.0 L344.7 158.4 L352.0 157.8 L354.4 157.6" fill="none" stroke="#ff9a1a" stroke-width="1.20" stroke-linejoin="round" stroke-linecap="round" />
<path d="M235.0 210.8 L235.9 211.4 L236.8 211.3 L237.7 212.3 L238.6 212.0 L239.5 211.6 L240.4 211.1 L241.3 211.4 L242.2 211.2 L243.1 212.0 L244.0 211.6 L244.9 211.3 L245.8 211.0 L246.7 211.5 L247.6 211.6 L248.5 212.4 L249.4 212.2 L250.3 211.1 L251.2 211.1 L252.1 211.6 L253.0 212.2 L253.9 212.3 L254.8 211.1 L255.7 210.9 L256.6 210.9 L258.4 212.7 L259.6 215.5 L260.5 219.0 L261.2 224.0 L261.6 226.8 L261.7 227.5 L261.9 225.5 L262.0 223.5 L262.1 221.5 L262.2 219.5 L262.4 217.5 L262.5 215.5 L262.7 213.5 L262.9 211.5 L263.2 209.5 L263.5 207.5 L263.9 205.5 L264.4 203.5 L264.9 201.5 L265.5 199.5 L266.1 197.5 L266.7 195.5 L267.4 193.5 L268.1 191.5 L268.8 189.5 L269.6 187.5 L270.4 185.5 L271.3 183.5 L272.5 181.5 L273.7 180.0 L274.2 179.4 L274.7 178.8 L275.3 178.2 L275.9 177.6 L276.4 177.0 L277.1 176.4 L277.7 175.8 L278.5 175.2 L279.2 174.6 L280.0 174.0 L280.8 173.4 L281.7 172.8 L282.6 172.2 L283.6 171.6 L284.6 171.0 L285.7 170.4 L286.9 169.8 L288.3 169.2 L289.7 168.6 L291.3 168.0 L292.9 167.4 L294.6 166.8 L296.5 166.2 L298.5 165.6 L300.6 165.0 L302.8 164.4 L305.2 163.8 L307.8 163.2 L310.6 162.6 L313.6 162.0 L316.7 161.4 L320.2 160.8 L324.2 160.2 L330.1 159.6 L337.6 159.0 L344.7 158.4 L352.0 157.8 L354.4 157.6" fill="none" stroke="#2a2af0" stroke-width="1.20" stroke-linejoin="round" stroke-linecap="round" />
<path d="M235.0 211.2 L235.9 211.1 L236.8 212.1 L237.7 212.0 L238.6 212.6 L239.5 212.0 L240.4 211.2 L241.3 211.4 L242.2 211.9 L243.1 212.7 L244.0 211.9 L244.9 211.3 L245.8 211.4 L246.7 211.8 L247.6 212.0 L248.5 212.7 L249.4 212.0 L250.3 211.7 L251.2 211.3 L252.1 211.9 L253.0 212.3 L253.9 211.7 L254.8 211.9 L255.7 211.0 L256.6 211.6 L258.4 212.9 L259.6 215.5 L260.5 219.0 L261.2 224.0 L261.6 227.7 L261.8 227.5 L261.9 225.5 L262.1 223.5 L262.3 221.5 L262.4 219.5 L262.6 217.5 L262.8 215.5 L263.0 213.5 L263.2 211.5 L263.5 209.5 L263.8 207.5 L264.2 205.5 L264.7 203.5 L265.2 201.5 L265.8 199.5 L266.4 197.5 L267.0 195.5 L267.7 193.5 L268.4 191.5 L269.1 189.5 L269.9 187.5 L270.6 185.5 L271.5 183.5 L272.8 181.5 L273.9 180.0 L274.4 179.4 L274.9 178.8 L275.4 178.2 L276.0 177.6 L276.6 177.0 L277.2 176.4 L277.9 175.8 L278.6 175.2 L279.3 174.6 L280.1 174.0 L280.9 173.4 L281.8 172.8 L282.7 172.2 L283.7 171.6 L284.7 171.0 L285.8 170.4 L287.0 169.8 L288.3 169.2 L289.8 168.6 L291.3 168.0 L292.9 167.4 L294.6 166.8 L296.5 166.2 L298.5 165.6 L300.6 165.0 L302.8 164.4 L305.2 163.8 L307.8 163.2 L310.6 162.6 L313.6 162.0 L316.7 161.4 L320.2 160.8 L324.2 160.2 L330.1 159.6 L337.6 159.0 L344.7 158.4 L352.0 157.8 L354.4 157.6" fill="none" stroke="#1c1c9c" stroke-width="1.20" stroke-linejoin="round" stroke-linecap="round" />
<path d="M234.0 176.0 L234.2 200.0 L234.6 211.0 L235.0 212.4 L235.9 213.7 L236.8 213.2 L237.7 212.9 L238.6 212.6 L239.5 212.2 L240.4 212.4 L241.3 213.2 L242.2 213.3 L243.1 212.6 L244.0 212.5 L244.9 212.8 L245.8 212.7 L246.7 213.3 L247.6 213.4 L248.5 212.3 L249.4 211.9 L250.3 212.7 L251.2 213.1 L252.1 213.3 L253.0 212.6 L253.9 212.4 L254.8 211.9 L255.7 213.1 L256.6 213.6 L258.4 213.4 L259.6 215.5 L260.5 219.0 L261.2 224.0 L261.6 228.0 L261.8 227.5 L262.0 225.5 L262.2 223.5 L262.4 221.5 L262.7 219.5 L262.9 217.5 L263.2 215.5 L263.4 213.5 L263.6 211.5 L263.9 209.5 L264.2 207.5 L264.6 205.5 L265.1 203.5 L265.6 201.5 L266.2 199.5 L266.8 197.5 L267.4 195.5 L268.1 193.5 L268.8 191.5 L269.5 189.5 L270.3 187.5 L271.0 185.5 L271.9 183.5 L273.0 181.5 L274.1 180.0 L274.6 179.4 L275.1 178.8 L275.7 178.2 L276.2 177.6 L276.8 177.0 L277.4 176.4 L278.1 175.8 L278.7 175.2 L279.5 174.6 L280.2 174.0 L281.1 173.4 L281.9 172.8 L282.8 172.2 L283.8 171.6 L284.8 171.0 L285.8 170.4 L287.0 169.8 L288.3 169.2 L289.8 168.6 L291.3 168.0 L292.9 167.4 L294.6 166.8 L296.5 166.2 L298.5 165.6 L300.6 165.0 L302.8 164.4 L305.2 163.8 L307.8 163.2 L310.6 162.6 L313.6 162.0 L316.7 161.4 L320.2 160.8 L324.2 160.2 L330.1 159.6 L337.6 159.0 L344.7 158.4 L352.0 157.8 L354.4 157.6" fill="none" stroke="#a020ff" stroke-width="1.20" stroke-linejoin="round" stroke-linecap="round" />
<path d="M234.0 176.0 L234.2 200.0 L234.6 211.0 L235.0 213.2 L235.9 212.1 L236.8 212.2 L237.7 211.4 L238.6 212.7 L239.5 212.9 L240.4 212.5 L241.3 212.4 L242.2 212.1 L243.1 212.5 L244.0 212.8 L244.9 213.0 L245.8 212.2 L246.7 211.9 L247.6 211.9 L248.5 212.5 L249.4 212.8 L250.3 213.3 L251.2 212.3 L252.1 212.1 L253.0 212.2 L253.9 212.5 L254.8 213.0 L255.7 212.7 L256.6 212.7 L258.4 213.3 L259.6 215.5 L260.5 219.0 L261.2 224.0 L261.6 228.3 L261.8 227.5 L262.0 225.5 L262.3 223.5 L262.5 221.5 L262.8 219.5 L263.1 217.5 L263.3 215.5 L263.6 213.5 L263.8 211.5 L264.1 209.5 L264.4 207.5 L264.8 205.5 L265.3 203.5 L265.8 201.5 L266.4 199.5 L267.0 197.5 L267.6 195.5 L268.3 193.5 L269.0 191.5 L269.7 189.5 L270.5 187.5 L271.2 185.5 L272.0 183.5 L273.2 181.5 L274.3 180.0 L274.7 179.4 L275.3 178.8 L275.8 178.2 L276.3 177.6 L276.9 177.0 L277.5 176.4 L278.1 175.8 L278.8 175.2 L279.5 174.6 L280.3 174.0 L281.1 173.4 L282.0 172.8 L282.9 172.2 L283.8 171.6 L284.8 171.0 L285.9 170.4 L287.1 169.8 L288.4 169.2 L289.8 168.6 L291.3 168.0 L292.9 167.4 L294.6 166.8 L296.5 166.2 L298.5 165.6 L300.6 165.0 L302.8 164.4 L305.2 163.8 L307.8 163.2 L310.6 162.6 L313.6 162.0 L316.7 161.4 L320.2 160.8 L324.2 160.2 L330.1 159.6 L337.6 159.0 L344.7 158.4 L352.0 157.8 L354.4 157.6" fill="none" stroke="#b010a8" stroke-width="1.20" stroke-linejoin="round" stroke-linecap="round" />
<path d="M324.4 175.0 H336.4" stroke="#111111" stroke-width="1.25"/>
<text x="338.4" y="177.0" font-size="5.40" font-weight="bold" fill="#111" text-anchor="start" stroke="#111" stroke-width="0.12">origin</text>
<path d="M324.4 181.7 H336.4" stroke="#ff1414" stroke-width="1.25"/>
<text x="338.4" y="183.7" font-size="5.40" font-weight="bold" fill="#111" text-anchor="start" stroke="#111" stroke-width="0.12">Ab-CA125</text>
<path d="M324.4 188.4 H336.4" stroke="#2a2af0" stroke-width="1.25"/>
<text x="338.4" y="190.4" font-size="5.40" font-weight="bold" fill="#111" text-anchor="start" stroke="#111" stroke-width="0.12">0.01U</text>
<path d="M324.4 195.2 H336.4" stroke="#ff9a1a" stroke-width="1.25"/>
<text x="338.4" y="197.2" font-size="5.40" font-weight="bold" fill="#111" text-anchor="start" stroke="#111" stroke-width="0.12">0.1U</text>
<path d="M324.4 201.9 H336.4" stroke="#18a83a" stroke-width="1.25"/>
<text x="338.4" y="203.9" font-size="5.40" font-weight="bold" fill="#111" text-anchor="start" stroke="#111" stroke-width="0.12">1U</text>
<path d="M324.4 208.6 H336.4" stroke="#1c1c9c" stroke-width="1.25"/>
<text x="338.4" y="210.6" font-size="5.40" font-weight="bold" fill="#111" text-anchor="start" stroke="#111" stroke-width="0.12">10U</text>
<path d="M324.4 215.3 H336.4" stroke="#a020ff" stroke-width="1.25"/>
<text x="338.4" y="217.3" font-size="5.40" font-weight="bold" fill="#111" text-anchor="start" stroke="#111" stroke-width="0.12">100U</text>
<path d="M324.4 222.0 H336.4" stroke="#b010a8" stroke-width="1.25"/>
<text x="338.4" y="224.0" font-size="5.40" font-weight="bold" fill="#111" text-anchor="start" stroke="#111" stroke-width="0.12">1000U</text>
<text x="242.0" y="151.6" font-size="7.00" font-weight="bold" fill="#f01a1a" text-anchor="start" >CA199</text>
<text x="268.0" y="228.4" font-size="7.70" font-weight="normal" fill="#222" text-anchor="start" stroke="#222" stroke-width="0.32">Selectivity test</text>
<rect x="233.4" y="139.0" width="133.0" height="99.0" fill="none" stroke="#111" stroke-width="1.4"/>
<text transform="translate(214.0,184) rotate(-90)" font-size="8.4" font-weight="bold" fill="#111" stroke="#111" stroke-width="0.25" text-anchor="middle">I<tspan dy="1.6" font-size="5.4">DS</tspan><tspan dy="-1.6">(A)</tspan></text>
<text x="302.6" y="254.4" font-size="8.6" font-weight="bold" fill="#111" stroke="#111" stroke-width="0.2" text-anchor="middle">V<tspan dy="1.6" font-size="5.5">GS</tspan><tspan dy="-1.6">(V)</tspan></text>
<text x="372.6" y="23.1" font-size="14.24" font-weight="bold" fill="#111"  textLength="16.9" lengthAdjust="spacingAndGlyphs">(c)</text>
<path d="M412.0 100.7 h-2.0" stroke="#111" stroke-width="0.9"/>
<text x="408.7" y="103.0" font-size="6.40" font-weight="bold" fill="#111" text-anchor="end" stroke="#111" stroke-width="0.15">0</text>
<path d="M412.0 80.8 h-2.0" stroke="#111" stroke-width="0.9"/>
<text x="408.7" y="83.1" font-size="6.40" font-weight="bold" fill="#111" text-anchor="end" stroke="#111" stroke-width="0.15">1</text>
<path d="M412.0 60.9 h-2.0" stroke="#111" stroke-width="0.9"/>
<text x="408.7" y="63.2" font-size="6.40" font-weight="bold" fill="#111" text-anchor="end" stroke="#111" stroke-width="0.15">2</text>
<path d="M412.0 41.0 h-2.0" stroke="#111" stroke-width="0.9"/>
<text x="408.7" y="43.3" font-size="6.40" font-weight="bold" fill="#111" text-anchor="end" stroke="#111" stroke-width="0.15">3</text>
<path d="M412.0 21.1 h-2.0" stroke="#111" stroke-width="0.9"/>
<text x="408.7" y="23.4" font-size="6.40" font-weight="bold" fill="#111" text-anchor="end" stroke="#111" stroke-width="0.15">4</text>
<path d="M412.0 90.8 h-1.2" stroke="#111" stroke-width="0.45"/>
<path d="M412.0 70.9 h-1.2" stroke="#111" stroke-width="0.45"/>
<path d="M412.0 51.0 h-1.2" stroke="#111" stroke-width="0.45"/>
<path d="M412.0 31.1 h-1.2" stroke="#111" stroke-width="0.45"/>
<path d="M417.6 110.3 v2.0" stroke="#111" stroke-width="0.9"/>
<text x="417.3" y="119.1" font-size="6.45" font-weight="bold" fill="#111" text-anchor="middle" stroke="#111" stroke-width="0.2">0.001</text>
<path d="M436.6 110.3 v2.0" stroke="#111" stroke-width="0.9"/>
<text x="436.3" y="119.1" font-size="6.45" font-weight="bold" fill="#111" text-anchor="middle" stroke="#111" stroke-width="0.2">0.01</text>
<path d="M455.7 110.3 v2.0" stroke="#111" stroke-width="0.9"/>
<text x="455.4" y="119.1" font-size="6.45" font-weight="bold" fill="#111" text-anchor="middle" stroke="#111" stroke-width="0.2">0.1</text>
<path d="M474.7 110.3 v2.0" stroke="#111" stroke-width="0.9"/>
<text x="474.4" y="119.1" font-size="6.45" font-weight="bold" fill="#111" text-anchor="middle" stroke="#111" stroke-width="0.2">1</text>
<path d="M493.7 110.3 v2.0" stroke="#111" stroke-width="0.9"/>
<text x="493.4" y="119.1" font-size="6.45" font-weight="bold" fill="#111" text-anchor="middle" stroke="#111" stroke-width="0.2">10</text>
<path d="M512.8 110.3 v2.0" stroke="#111" stroke-width="0.9"/>
<text x="512.5" y="119.1" font-size="6.45" font-weight="bold" fill="#111" text-anchor="middle" stroke="#111" stroke-width="0.2">100</text>
<path d="M531.8 110.3 v2.0" stroke="#111" stroke-width="0.9"/>
<text x="531.5" y="119.1" font-size="6.45" font-weight="bold" fill="#111" text-anchor="middle" stroke="#111" stroke-width="0.2">1000</text>
<path d="M436.6 89.8 L531.5 32.7" fill="none" stroke="#f01414" stroke-width="1.40" stroke-linejoin="round" stroke-linecap="round" />
<path d="M436.6 88.6 V90.2 M435.8 88.6 h1.6 M435.8 90.2 h1.6" stroke="#222" stroke-width="0.6" fill="none"/>
<rect x="435.5" y="88.2" width="2.3" height="2.3" fill="#111"/>
<path d="M455.4 77.5 V80.7 M454.6 77.5 h1.6 M454.6 80.7 h1.6" stroke="#222" stroke-width="0.6" fill="none"/>
<rect x="454.2" y="77.9" width="2.3" height="2.3" fill="#111"/>
<path d="M474.8 67.4 V74.6 M474.0 67.4 h1.6 M474.0 74.6 h1.6" stroke="#222" stroke-width="0.6" fill="none"/>
<rect x="473.7" y="69.8" width="2.3" height="2.3" fill="#111"/>
<path d="M493.9 52.5 V62.3 M493.1 52.5 h1.6 M493.1 62.3 h1.6" stroke="#222" stroke-width="0.6" fill="none"/>
<rect x="492.8" y="56.2" width="2.3" height="2.3" fill="#111"/>
<path d="M512.7 38.2 V49.4 M511.9 38.2 h1.6 M511.9 49.4 h1.6" stroke="#222" stroke-width="0.6" fill="none"/>
<rect x="511.6" y="42.6" width="2.3" height="2.3" fill="#111"/>
<path d="M531.5 20.8 V33.2 M530.7 20.8 h1.6 M530.7 33.2 h1.6" stroke="#222" stroke-width="0.6" fill="none"/>
<rect x="530.4" y="25.9" width="2.3" height="2.3" fill="#111"/>
<circle cx="417.8" cy="100.2" r="4.1" fill="none" stroke="#f01414" stroke-width="1.2" stroke-dasharray="2.0 1.1"/>
<rect x="416.9" y="99.9" width="1.8" height="1.8" fill="#111"/>
<path d="M438.9 100.6 H427.5" stroke="#f01414" stroke-width="1.2"/><path d="M424.8 100.6 L428.6 98.7 V102.5Z" fill="#f01414"/>
<text x="442" y="103" font-size="7.3" font-weight="bold" fill="#f01a1a" textLength="88.5" lengthAdjust="spacingAndGlyphs">Ab-CA125 Immobilization</text>
<text x="421.5" y="24.5" font-size="7.00" font-weight="bold" fill="#222" text-anchor="start" >CA125</text>
<text x="418.3" y="45" font-size="7.5" font-weight="bold" fill="#222" textLength="72" lengthAdjust="spacingAndGlyphs">y=0.60429x−0.69286</text>
<text x="418.3" y="55.4" font-size="7.5" font-weight="bold" fill="#222">R<tspan dy="-2.6" font-size="4.6">2</tspan><tspan dy="2.6">=0.98796</tspan></text>
<rect x="412.0" y="12.0" width="132.9" height="98.3" fill="none" stroke="#111" stroke-width="1.6"/>
<text transform="translate(399.4,62.3) rotate(-90)" font-size="8.4" font-weight="bold" fill="#111" stroke="#111" stroke-width="0.25" text-anchor="middle">ΔV<tspan dy="1.6" font-size="5.4">TH</tspan><tspan dy="-1.6"> (V)</tspan></text>
<text x="432.8" y="127.9" font-size="7.9" font-weight="bold" fill="#111" stroke="#111" stroke-width="0.2" textLength="85" lengthAdjust="spacingAndGlyphs">Concentration (U/mL)</text>
<text x="370.9" y="152.0" font-size="14.24" font-weight="bold" fill="#111"  textLength="18.6" lengthAdjust="spacingAndGlyphs">(e)</text>
<path d="M411.6 227.6 h-2.0" stroke="#111" stroke-width="0.9"/>
<text x="408.3" y="229.9" font-size="6.40" font-weight="bold" fill="#111" text-anchor="end" stroke="#111" stroke-width="0.15">0</text>
<path d="M411.6 207.9 h-2.0" stroke="#111" stroke-width="0.9"/>
<text x="408.3" y="210.2" font-size="6.40" font-weight="bold" fill="#111" text-anchor="end" stroke="#111" stroke-width="0.15">1</text>
<path d="M411.6 188.3 h-2.0" stroke="#111" stroke-width="0.9"/>
<text x="408.3" y="190.6" font-size="6.40" font-weight="bold" fill="#111" text-anchor="end" stroke="#111" stroke-width="0.15">2</text>
<path d="M411.6 168.7 h-2.0" stroke="#111" stroke-width="0.9"/>
<text x="408.3" y="171.0" font-size="6.40" font-weight="bold" fill="#111" text-anchor="end" stroke="#111" stroke-width="0.15">3</text>
<path d="M411.6 149.0 h-2.0" stroke="#111" stroke-width="0.9"/>
<text x="408.3" y="151.3" font-size="6.40" font-weight="bold" fill="#111" text-anchor="end" stroke="#111" stroke-width="0.15">4</text>
<path d="M411.6 217.8 h-1.2" stroke="#111" stroke-width="0.45"/>
<path d="M411.6 198.1 h-1.2" stroke="#111" stroke-width="0.45"/>
<path d="M411.6 178.5 h-1.2" stroke="#111" stroke-width="0.45"/>
<path d="M411.6 158.8 h-1.2" stroke="#111" stroke-width="0.45"/>
<path d="M417.6 237.6 v2.0" stroke="#111" stroke-width="0.9"/>
<text x="417.3" y="246.2" font-size="6.45" font-weight="bold" fill="#111" text-anchor="middle" stroke="#111" stroke-width="0.2">0.001</text>
<path d="M436.6 237.6 v2.0" stroke="#111" stroke-width="0.9"/>
<text x="436.3" y="246.2" font-size="6.45" font-weight="bold" fill="#111" text-anchor="middle" stroke="#111" stroke-width="0.2">0.01</text>
<path d="M455.7 237.6 v2.0" stroke="#111" stroke-width="0.9"/>
<text x="455.4" y="246.2" font-size="6.45" font-weight="bold" fill="#111" text-anchor="middle" stroke="#111" stroke-width="0.2">0.1</text>
<path d="M474.7 237.6 v2.0" stroke="#111" stroke-width="0.9"/>
<text x="474.4" y="246.2" font-size="6.45" font-weight="bold" fill="#111" text-anchor="middle" stroke="#111" stroke-width="0.2">1</text>
<path d="M493.7 237.6 v2.0" stroke="#111" stroke-width="0.9"/>
<text x="493.4" y="246.2" font-size="6.45" font-weight="bold" fill="#111" text-anchor="middle" stroke="#111" stroke-width="0.2">10</text>
<path d="M512.8 237.6 v2.0" stroke="#111" stroke-width="0.9"/>
<text x="512.5" y="246.2" font-size="6.45" font-weight="bold" fill="#111" text-anchor="middle" stroke="#111" stroke-width="0.2">100</text>
<path d="M531.8 237.6 v2.0" stroke="#111" stroke-width="0.9"/>
<text x="531.5" y="246.2" font-size="6.45" font-weight="bold" fill="#111" text-anchor="middle" stroke="#111" stroke-width="0.2">1000</text>
<path d="M436.2 225.0 L531.4 217.5" fill="none" stroke="#f01414" stroke-width="1.30" stroke-linejoin="round" stroke-linecap="round" />
<circle cx="436.4" cy="224.9" r="1.25" fill="#f01414"/>
<circle cx="455.6" cy="223.2" r="1.25" fill="#f01414"/>
<circle cx="474.6" cy="224.2" r="1.25" fill="#f01414"/>
<circle cx="493.6" cy="220.8" r="1.25" fill="#f01414"/>
<circle cx="512.4" cy="219.8" r="1.25" fill="#f01414"/>
<circle cx="531.4" cy="217.5" r="1.4" fill="#f01414"/>
<circle cx="418" cy="227.6" r="4.4" fill="none" stroke="#f01414" stroke-width="1.2" stroke-dasharray="2.0 1.1"/>
<circle cx="418" cy="227.6" r="1.2" fill="#f01414"/>
<path d="M433.6 212.8 L426 218.5" stroke="#f01414" stroke-width="1.25"/><path d="M423 220.8 L427.3 219.9 L425.05 216.9Z" fill="#f01414"/>
<text x="434.3" y="211.6" font-size="7.3" font-weight="bold" fill="#f01a1a" textLength="88.5" lengthAdjust="spacingAndGlyphs">Ab-CA125 Immobilization</text>
<text x="421.0" y="151.0" font-size="7.00" font-weight="bold" fill="#f01a1a" text-anchor="start" >CA199</text>
<text x="417" y="170" font-size="7.5" font-weight="bold" fill="#222" textLength="71.3" lengthAdjust="spacingAndGlyphs">y=0.06521x+0.28081</text>
<text x="417" y="180" font-size="7.5" font-weight="bold" fill="#222">R<tspan dy="-2.6" font-size="4.6">2</tspan><tspan dy="2.6">=0.86651</tspan></text>
<rect x="411.6" y="139.2" width="133.0" height="98.4" fill="none" stroke="#111" stroke-width="1.6"/>
<text transform="translate(399.4,188.5) rotate(-90)" font-size="8.4" font-weight="bold" fill="#111" stroke="#111" stroke-width="0.25" text-anchor="middle">ΔV<tspan dy="1.6" font-size="5.4">TH</tspan><tspan dy="-1.6"> (V)</tspan></text>
<text x="432.8" y="254.6" font-size="7.9" font-weight="bold" fill="#111" stroke="#111" stroke-width="0.2" textLength="84.8" lengthAdjust="spacingAndGlyphs">Concentration (U/mL)</text>
<text x="193.0" y="279.5" font-size="14.35" font-weight="normal" fill="#111" stroke="#111" stroke-width="0.3" textLength="14.3" lengthAdjust="spacingAndGlyphs">(f)</text>
<rect x="236.4" y="279.0" width="8.9" height="88.0" fill="#00007e"/>
<rect x="245.3" y="290.7" width="8.9" height="76.3" fill="#ff7072"/>
<text x="245.2" y="375.6" font-size="6.90" font-weight="bold" fill="#111" text-anchor="middle" >P1</text>
<path d="M245.2 367.0 v1.9" stroke="#111" stroke-width="0.8"/>
<rect x="258.5" y="313.9" width="8.9" height="53.1" fill="#00007e"/>
<rect x="267.4" y="329.2" width="8.9" height="37.8" fill="#ff7072"/>
<text x="267.3" y="375.6" font-size="6.90" font-weight="bold" fill="#111" text-anchor="middle" >P2</text>
<path d="M267.3 367.0 v1.9" stroke="#111" stroke-width="0.8"/>
<rect x="280.7" y="333.1" width="8.9" height="33.9" fill="#00007e"/>
<rect x="289.6" y="326.4" width="8.9" height="40.6" fill="#ff7072"/>
<text x="289.5" y="375.6" font-size="6.90" font-weight="bold" fill="#111" text-anchor="middle" >P3</text>
<path d="M289.5 367.0 v1.9" stroke="#111" stroke-width="0.8"/>
<rect x="302.8" y="360.0" width="8.9" height="7.0" fill="#00007e"/>
<rect x="311.8" y="362.9" width="8.9" height="4.1" fill="#ff7072"/>
<text x="311.6" y="375.6" font-size="6.90" font-weight="bold" fill="#111" text-anchor="middle" >H1</text>
<path d="M311.6 367.0 v1.9" stroke="#111" stroke-width="0.8"/>
<rect x="325.0" y="364.0" width="8.9" height="3.0" fill="#00007e"/>
<rect x="333.9" y="363.5" width="8.9" height="3.5" fill="#ff7072"/>
<text x="333.8" y="375.6" font-size="6.90" font-weight="bold" fill="#111" text-anchor="middle" >H2</text>
<path d="M333.8 367.0 v1.9" stroke="#111" stroke-width="0.8"/>
<rect x="347.1" y="358.1" width="8.9" height="8.9" fill="#00007e"/>
<rect x="356.1" y="359.4" width="8.9" height="7.6" fill="#ff7072"/>
<text x="355.9" y="375.6" font-size="6.90" font-weight="bold" fill="#111" text-anchor="middle" >H3</text>
<path d="M355.9 367.0 v1.9" stroke="#111" stroke-width="0.8"/>
<path d="M234.7 367.0 h-2" stroke="#111" stroke-width="0.8"/>
<text x="231.4" y="368.7" font-size="6.80" font-weight="bold" fill="#111" text-anchor="end" >0</text>
<path d="M234.7 355.4 h-2" stroke="#111" stroke-width="0.8"/>
<text x="231.4" y="357.1" font-size="6.80" font-weight="bold" fill="#111" text-anchor="end" >100</text>
<path d="M234.7 343.8 h-2" stroke="#111" stroke-width="0.8"/>
<text x="231.4" y="345.5" font-size="6.80" font-weight="bold" fill="#111" text-anchor="end" >200</text>
<path d="M234.7 332.1 h-2" stroke="#111" stroke-width="0.8"/>
<text x="231.4" y="333.8" font-size="6.80" font-weight="bold" fill="#111" text-anchor="end" >300</text>
<path d="M234.7 320.5 h-2" stroke="#111" stroke-width="0.8"/>
<text x="231.4" y="322.2" font-size="6.80" font-weight="bold" fill="#111" text-anchor="end" >400</text>
<path d="M234.7 308.9 h-2" stroke="#111" stroke-width="0.8"/>
<text x="231.4" y="310.6" font-size="6.80" font-weight="bold" fill="#111" text-anchor="end" >500</text>
<path d="M234.7 297.3 h-2" stroke="#111" stroke-width="0.8"/>
<text x="231.4" y="299.0" font-size="6.80" font-weight="bold" fill="#111" text-anchor="end" >600</text>
<path d="M234.7 285.7 h-2" stroke="#111" stroke-width="0.8"/>
<text x="231.4" y="287.4" font-size="6.80" font-weight="bold" fill="#111" text-anchor="end" >700</text>
<path d="M234.7 274.0 h-2" stroke="#111" stroke-width="0.8"/>
<text x="231.4" y="275.7" font-size="6.80" font-weight="bold" fill="#111" text-anchor="end" >800</text>
<path d="M234.7 361.2 h-1.2" stroke="#111" stroke-width="0.45"/>
<path d="M234.7 349.6 h-1.2" stroke="#111" stroke-width="0.45"/>
<path d="M234.7 337.9 h-1.2" stroke="#111" stroke-width="0.45"/>
<path d="M234.7 326.3 h-1.2" stroke="#111" stroke-width="0.45"/>
<path d="M234.7 314.7 h-1.2" stroke="#111" stroke-width="0.45"/>
<path d="M234.7 303.1 h-1.2" stroke="#111" stroke-width="0.45"/>
<path d="M234.7 291.5 h-1.2" stroke="#111" stroke-width="0.45"/>
<path d="M234.7 279.9 h-1.2" stroke="#111" stroke-width="0.45"/>
<rect x="288.4" y="278.2" width="17.6" height="8.4" fill="#00007e"/>
<rect x="288.4" y="288" width="17.6" height="8.2" fill="#ff7072"/>
<text x="308.0" y="285.2" font-size="6.10" font-weight="normal" fill="#222" text-anchor="start" stroke="#222" stroke-width="0.15">InSe FET Biosensor</text>
<text x="308.0" y="294.6" font-size="6.10" font-weight="normal" fill="#222" text-anchor="start" stroke="#222" stroke-width="0.15">Cobas e601</text>
<rect x="234.7" y="268.8" width="131.5" height="98.2" fill="none" stroke="#111" stroke-width="1.4"/>
<text transform="translate(214.2,317.2) rotate(-90)" font-size="8.4" font-weight="bold" fill="#111" stroke="#111" stroke-width="0.2" text-anchor="middle" textLength="89.6" lengthAdjust="spacingAndGlyphs">concentration (U/mL)</text>
<text x="368.9" y="279.5" font-size="14.35" font-weight="normal" fill="#111" stroke="#111" stroke-width="0.3" textLength="18.4" lengthAdjust="spacingAndGlyphs">(g)</text>
<path d="M412.5 366.8 h-2" stroke="#111" stroke-width="0.8"/>
<text x="409.9" y="369.1" font-size="6.90" font-weight="bold" fill="#111" text-anchor="end" >0</text>
<path d="M412.5 340.4 h-2" stroke="#111" stroke-width="0.8"/>
<text x="409.9" y="342.7" font-size="6.90" font-weight="bold" fill="#111" text-anchor="end" >200</text>
<path d="M412.5 314.0 h-2" stroke="#111" stroke-width="0.8"/>
<text x="409.9" y="316.3" font-size="6.90" font-weight="bold" fill="#111" text-anchor="end" >400</text>
<path d="M412.5 287.6 h-2" stroke="#111" stroke-width="0.8"/>
<text x="409.9" y="289.9" font-size="6.90" font-weight="bold" fill="#111" text-anchor="end" >600</text>
<path d="M412.5 353.6 h-1.2" stroke="#111" stroke-width="0.45"/>
<path d="M412.5 327.2 h-1.2" stroke="#111" stroke-width="0.45"/>
<path d="M412.5 300.8 h-1.2" stroke="#111" stroke-width="0.45"/>
<path d="M412.5 274.4 h-1.2" stroke="#111" stroke-width="0.45"/>
<path d="M412.0 366.8 v2" stroke="#111" stroke-width="0.8"/>
<text x="412.0" y="375.2" font-size="6.90" font-weight="bold" fill="#111" text-anchor="middle" >0</text>
<path d="M443.2 366.8 v2" stroke="#111" stroke-width="0.8"/>
<text x="443.2" y="375.2" font-size="6.90" font-weight="bold" fill="#111" text-anchor="middle" >200</text>
<path d="M474.4 366.8 v2" stroke="#111" stroke-width="0.8"/>
<text x="474.4" y="375.2" font-size="6.90" font-weight="bold" fill="#111" text-anchor="middle" >400</text>
<path d="M505.6 366.8 v2" stroke="#111" stroke-width="0.8"/>
<text x="505.6" y="375.2" font-size="6.90" font-weight="bold" fill="#111" text-anchor="middle" >600</text>
<path d="M536.8 366.8 v2" stroke="#111" stroke-width="0.8"/>
<text x="536.8" y="375.2" font-size="6.90" font-weight="bold" fill="#111" text-anchor="middle" >800</text>
<path d="M427.6 366.8 v1.2" stroke="#111" stroke-width="0.45"/>
<path d="M458.8 366.8 v1.2" stroke="#111" stroke-width="0.45"/>
<path d="M490.0 366.8 v1.2" stroke="#111" stroke-width="0.45"/>
<path d="M521.2 366.8 v1.2" stroke="#111" stroke-width="0.45"/>
<path d="M415.9 362.9 L530.2 282.8" fill="none" stroke="#f01414" stroke-width="1.30" stroke-linejoin="round" stroke-linecap="round" />
<rect x="415.2" y="362.2" width="2.1" height="2.1" fill="#111"/>
<rect x="420.4" y="361.8" width="2.1" height="2.1" fill="#111"/>
<rect x="422.8" y="357.4" width="2.1" height="2.1" fill="#111"/>
<rect x="456.1" y="319.6" width="2.1" height="2.1" fill="#111"/>
<rect x="482.6" y="323.3" width="2.1" height="2.1" fill="#111"/>
<rect x="529.6" y="278.9" width="2.1" height="2.1" fill="#111"/>
<text x="426.9" y="298" font-size="7.3" font-weight="bold" fill="#222">R<tspan dy="-2.6" font-size="4.5">2</tspan><tspan dy="2.6">=0.95029</tspan></text>
<rect x="412.5" y="268.5" width="132.2" height="98.3" fill="none" stroke="#111" stroke-width="1.5"/>
<text transform="translate(395.2,317.6) rotate(-90)" font-size="8.3" font-weight="bold" fill="#111" stroke="#111" stroke-width="0.2" text-anchor="middle" textLength="92.6" lengthAdjust="spacingAndGlyphs">InSe Biosensor (U/mL)</text>
<text x="437.9" y="385.3" font-size="8.4" font-weight="bold" fill="#111" stroke="#111" stroke-width="0.2" textLength="80.6" lengthAdjust="spacingAndGlyphs">Cobas-e601 (U/mL)</text>
</svg></body></html>
